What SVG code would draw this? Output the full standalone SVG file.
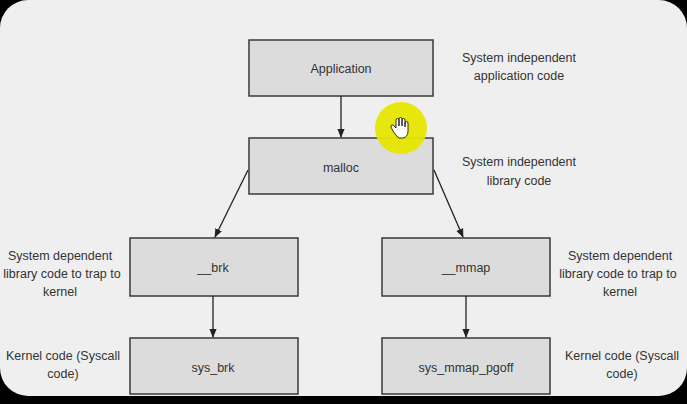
<svg xmlns="http://www.w3.org/2000/svg" width="687" height="404" viewBox="0 0 687 404">
<style>
.box{fill:#dcdcdc;stroke:#3a3a3a;stroke-width:1.5}
.t{font-family:"Liberation Sans",Arial,sans-serif;font-size:12.5px;fill:#333;text-anchor:middle}
.c{stroke:#222;stroke-width:1.3;fill:none;marker-end:url(#a)}
</style>
<defs><marker id="a" viewBox="0 0 10 10" refX="9" refY="5" markerWidth="7" markerHeight="7" orient="auto"><path d="M0,1 L10,5 L0,9 z" fill="#222"/></marker></defs>
<rect width="687" height="404" fill="#000"/>
<rect x="0" y="0" width="687" height="396" rx="28" fill="#efefef"/>
<g id="app"><rect class="box" x="249" y="40" width="184" height="56"/><text class="t" x="341" y="73">Application</text></g>
<g id="malloc"><rect class="box" x="249" y="138" width="184" height="56"/><text class="t" x="341" y="172">malloc</text></g>
<g id="brk"><rect class="box" x="130" y="238" width="168" height="58"/><text class="t" x="213" y="272">__brk</text></g>
<g id="mmap"><rect class="box" x="382" y="238" width="168" height="58"/><text class="t" x="466" y="272">__mmap</text></g>
<g id="sysbrk"><rect class="box" x="130" y="338" width="168" height="56"/><text class="t" x="213" y="372">sys_brk</text></g>
<g id="sysmmap"><rect class="box" x="382" y="338" width="168" height="56"/><text class="t" x="466" y="372">sys_mmap_pgoff</text></g>
<g id="labels">
<text class="t" x="519" y="62">System independent</text><text class="t" x="519" y="80">application code</text>
<text class="t" x="519" y="166">System independent</text><text class="t" x="519" y="185">library code</text>
<text class="t" x="60" y="260">System dependent</text><text class="t" x="62" y="278">library code to trap to</text><text class="t" x="60" y="296">kernel</text>
<text class="t" x="620" y="260">System dependent</text><text class="t" x="618" y="278">library code to trap to</text><text class="t" x="620" y="296">kernel</text>
<text class="t" x="63" y="360">Kernel code (Syscall</text><text class="t" x="63" y="378">code)</text>
<text class="t" x="622" y="360">Kernel code (Syscall</text><text class="t" x="622" y="378">code)</text>
</g>
<g id="connectors">
<line class="c" x1="341" y1="96" x2="341" y2="137"/>
<line class="c" x1="248" y1="170" x2="215" y2="237"/>
<line class="c" x1="434" y1="170" x2="463" y2="237"/>
<line class="c" x1="213" y1="296" x2="213" y2="337"/>
<line class="c" x1="466" y1="296" x2="466" y2="337"/>
</g>
<ellipse cx="401" cy="128" rx="26" ry="26" fill="#e6e600" opacity="0.95"/>
<path d="M396,128 v-8 a1.5,1.5 0 0 1 3,0 v6 v-7 a1.5,1.5 0 0 1 3,0 v7 v-6 a1.5,1.5 0 0 1 3,0 v7 v-4 a1.5,1.5 0 0 1 3,0 v8 q0,6 -5,7 h-4 q-3,-2 -6,-7 l-2,-4 a1.5,1.5 0 0 1 3,-1 z" fill="#fff" stroke="#000" stroke-width="0.8"/>
</svg>
